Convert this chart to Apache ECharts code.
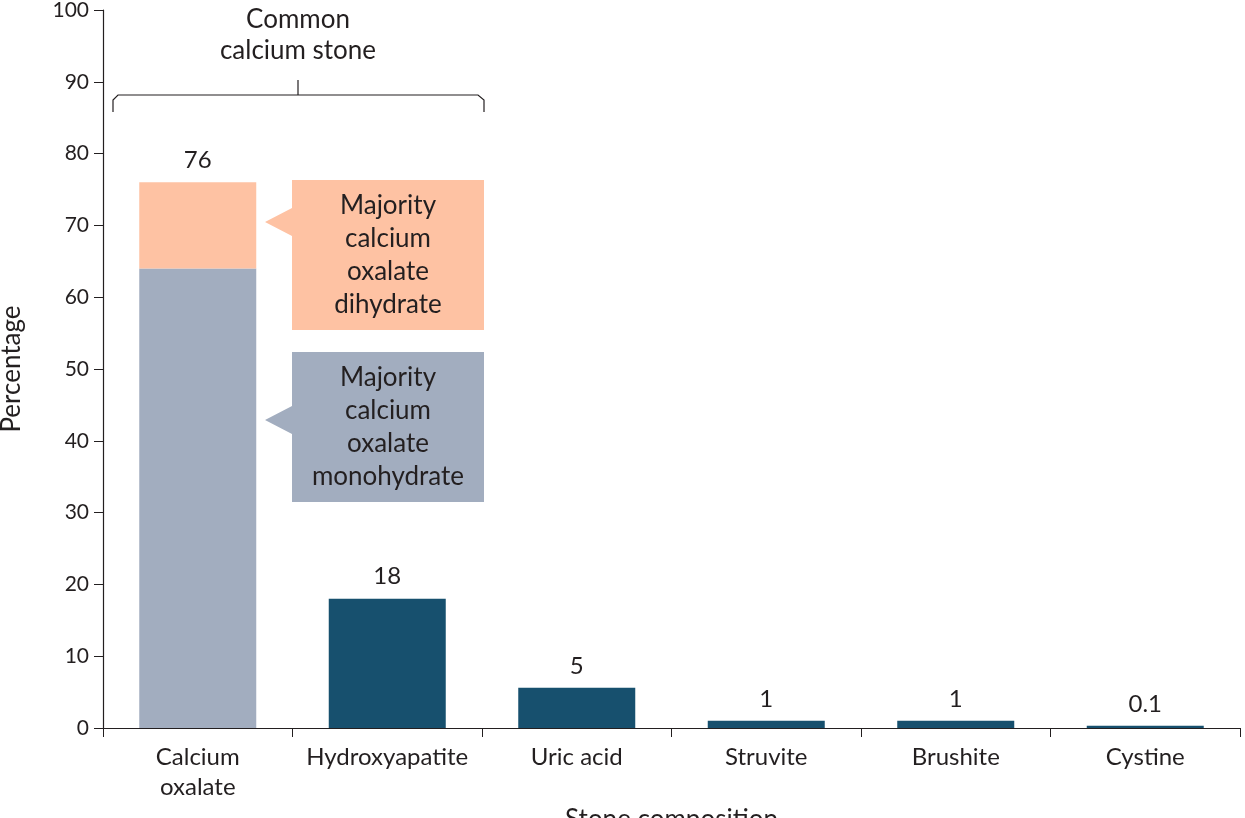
<!DOCTYPE html>
<html>
<head>
<meta charset="utf-8" />
<title>Stone composition</title>
<script src="https://cdn.jsdelivr.net/npm/echarts@6/dist/echarts.min.js"></script>
<style>
html,body{margin:0;padding:0;background:#fff;}
#chart{width:1245px;height:818px;}
</style>
</head>
<body>
<div id="chart"></div>
<script type="text/javascript">
var categories = ['Calcium\noxalate', 'Hydroxyapatite', 'Uric acid', 'Struvite', 'Brushite', 'Cystine'];
var baseValues = [64, 18, 5.6, 1, 1, 0.3];
var topValues = [12, 0, 0, 0, 0, 0];
var valueLabels = ['76', '18', '5', '1', '1', '0.1'];
var yTicks = [0, 10, 20, 30, 40, 50, 60, 70, 80, 90, 100];

var font = 'Lato, "Noto Sans", sans-serif';
var ink = '#231f20';
var myChart = echarts.init(document.getElementById('chart'));

myChart.setOption({
    animation: false,
    grid: { left: 103, right: 5, top: 10, bottom: 90, containLabel: false, outerBoundsMode: 'none' },
    xAxis: {
        type: 'category',
        data: categories,
        name: 'Stone composition',
        nameLocation: 'middle',
        nameGap: 62,
        nameTextStyle: { fontFamily: font, fontSize: 26, color: ink },
        axisLine: { lineStyle: { color: ink, width: 1.2 } },
        axisTick: { show: true, alignWithLabel: false, length: 9, lineStyle: { color: ink } },
        axisLabel: { fontFamily: font, fontSize: 24, color: ink, margin: 14, lineHeight: 30, interval: 0 }
    },
    yAxis: {
        type: 'value',
        min: 0, max: 100, interval: 10,
        name: 'Percentage',
        nameLocation: 'middle',
        nameGap: 78,
        nameTextStyle: { fontFamily: font, fontSize: 26, color: ink },
        splitLine: { show: false },
        axisLine: { show: true, lineStyle: { color: ink, width: 1.2 } },
        axisTick: { show: true, length: 9, lineStyle: { color: ink } },
        axisLabel: {
            fontFamily: font, fontSize: 21, color: ink, margin: 14,
            formatter: function (v) { return yTicks.indexOf(v) >= 0 ? String(v) : ''; }
        }
    },
    series: [
        {
            type: 'bar', stack: 's', barWidth: 117,
            data: baseValues.map(function (v, i) {
                return { value: v, itemStyle: { color: i === 0 ? '#a2adbf' : '#17506e' } };
            }),
            label: {
                show: true, position: 'top', distance: 10,
                fontFamily: font, fontSize: 24, color: ink,
                formatter: function (p) { return p.dataIndex === 0 ? '' : valueLabels[p.dataIndex]; }
            }
        },
        {
            type: 'bar', stack: 's', barWidth: 117,
            itemStyle: { color: '#fec2a3' },
            data: topValues,
            label: {
                show: true, position: 'top', distance: 10,
                fontFamily: font, fontSize: 24, color: ink,
                formatter: function (p) { return p.dataIndex === 0 ? valueLabels[0] : ''; }
            }
        }
    ],
    graphic: [
        { type: 'polyline', shape: { points: [[113, 112], [113, 100], [118, 95], [478, 95], [484, 100], [484, 112]] },
          style: { stroke: ink, fill: null, lineWidth: 1.2 } },
        { type: 'line', shape: { x1: 298, y1: 95, x2: 298, y2: 80 }, style: { stroke: ink, lineWidth: 1.2 } },
        { type: 'text', x: 298, y: 35, style: { text: 'Common\ncalcium stone', font: '26px ' + font, fill: ink, align: 'center', verticalAlign: 'middle', lineHeight: 31 } },
        { type: 'polygon', shape: { points: [[292, 180], [484, 180], [484, 330], [292, 330], [292, 236], [265, 222], [292, 208]] },
          style: { fill: '#fec2a3' } },
        { type: 'text', x: 388, y: 255, style: { text: 'Majority\ncalcium\noxalate\ndihydrate', font: '26px ' + font, fill: ink, align: 'center', verticalAlign: 'middle', lineHeight: 33 } },
        { type: 'polygon', shape: { points: [[292, 352], [484, 352], [484, 502], [292, 502], [292, 434], [265, 420], [292, 406]] },
          style: { fill: '#a2adbf' } },
        { type: 'text', x: 388, y: 427, style: { text: 'Majority\ncalcium\noxalate\nmonohydrate', font: '26px ' + font, fill: ink, align: 'center', verticalAlign: 'middle', lineHeight: 33 } }
    ]
});
</script>
</body>
</html>
